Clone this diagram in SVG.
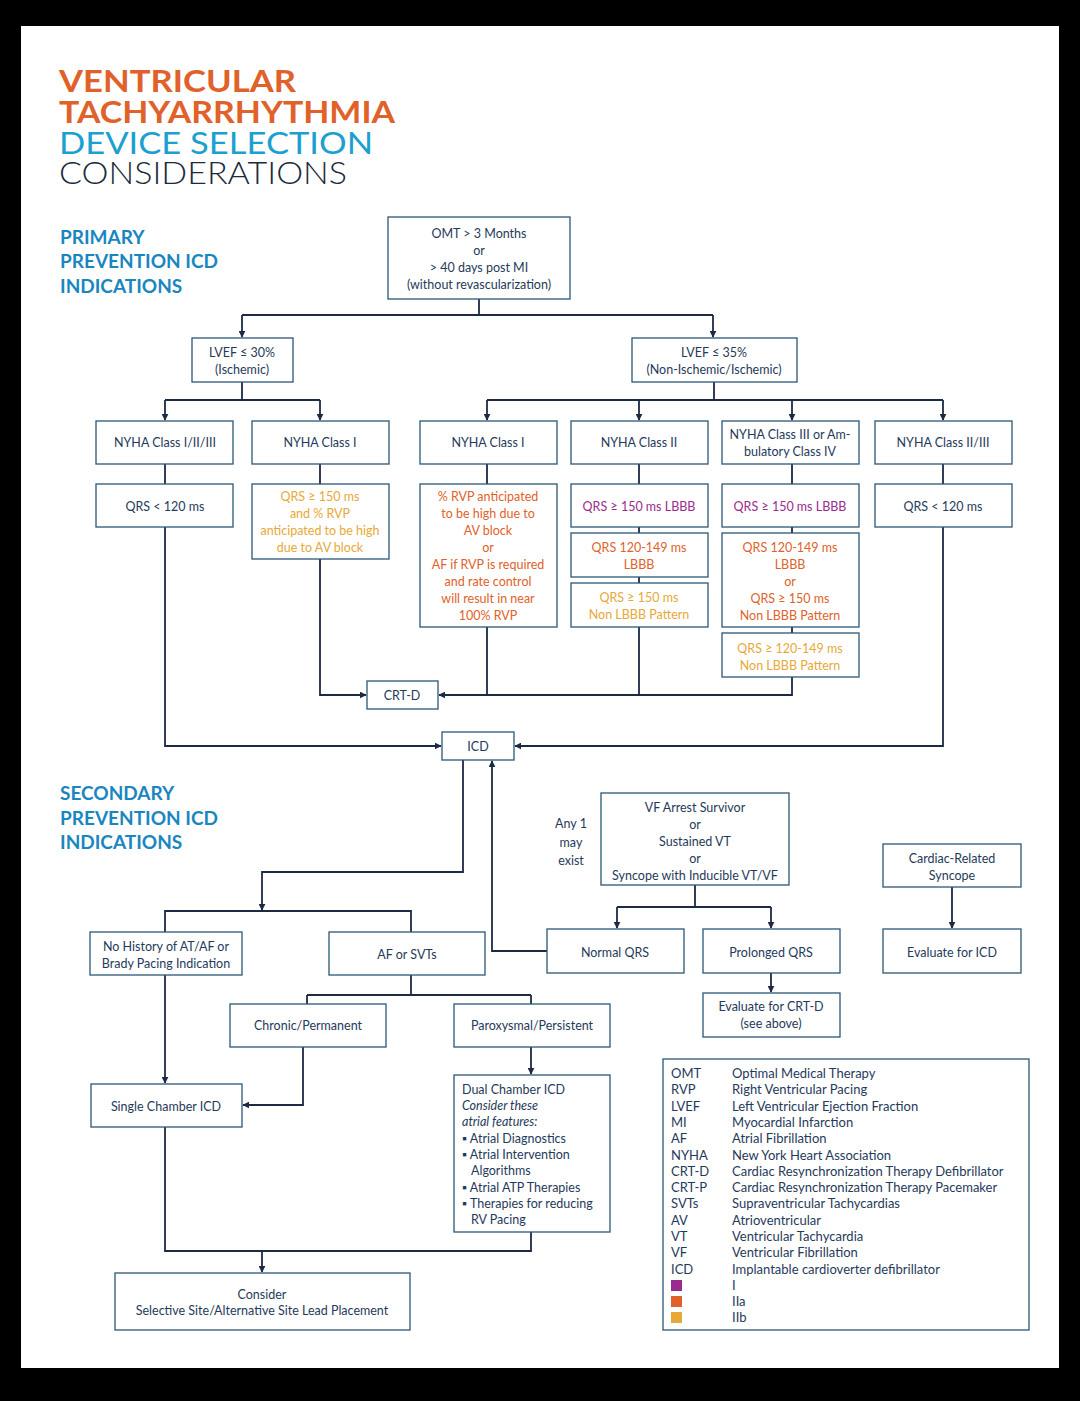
<svg xmlns="http://www.w3.org/2000/svg" width="1080" height="1401" viewBox="0 0 1080 1401">
<defs>
<marker id="ah" viewBox="0 0 10 10" refX="9" refY="5" markerWidth="7" markerHeight="7" orient="auto" markerUnits="userSpaceOnUse"><path d="M0,0 L10,5 L0,10 z" fill="#1c2a44"/></marker>
<style>
.b{fill:#fff;stroke:#2a5676;stroke-width:1.3}
.t{font-family:Lato,"Open Sans",sans-serif;font-size:12.5px;fill:#1f3a5a;text-anchor:middle}
.l{font-family:Lato,"Open Sans",sans-serif;font-size:12.5px;fill:#1f3a5a}
.lg{font-family:Lato,"Open Sans",sans-serif;font-size:13px;fill:#1f3a5a}
.p{fill:#9b2a8e}.o{fill:#e0622a}.y{fill:#e8a838}
.h{font-family:Lato,"Open Sans",sans-serif;font-size:19px;font-weight:bold;fill:#1a86c0}
#conn path{fill:none;stroke:#1c2a44;stroke-width:1.8}
</style>
</defs>
<rect width="1080" height="1401" fill="#000"/>
<rect x="21" y="26" width="1038" height="1342" fill="#fff"/>
<g font-family="Lato,'Open Sans',sans-serif" font-size="30.5" lengthAdjust="spacingAndGlyphs">
<text x="59" y="92" font-weight="bold" fill="#e0622a" textLength="237" lengthAdjust="spacingAndGlyphs">VENTRICULAR</text>
<text x="59" y="123" font-weight="bold" fill="#e0622a" textLength="336" lengthAdjust="spacingAndGlyphs">TACHYARRHYTHMIA</text>
<text x="59" y="154" fill="#1ba0cf" textLength="314" lengthAdjust="spacingAndGlyphs">DEVICE SELECTION</text>
<text x="59" y="184" fill="#1a2a3a" font-weight="300" textLength="288" lengthAdjust="spacingAndGlyphs">CONSIDERATIONS</text>
</g>
<text class="h" x="60" y="244">PRIMARY</text>
<text class="h" x="60" y="268">PREVENTION ICD</text>
<text class="h" x="60" y="293">INDICATIONS</text>
<text class="h" x="60" y="800">SECONDARY</text>
<text class="h" x="60" y="825">PREVENTION ICD</text>
<text class="h" x="60" y="849">INDICATIONS</text>

<g id="conn">
<path d="M479,299 V315 M242,315 H713"/>
<path d="M242,315 V337" marker-end="url(#ah)"/><path d="M713,315 V337" marker-end="url(#ah)"/>
<path d="M242,382 V400 M165,400 H320 M714,382 V400 M487,400 H943"/>
<path d="M165,400 V420" marker-end="url(#ah)"/><path d="M320,400 V420" marker-end="url(#ah)"/>
<path d="M487,400 V420" marker-end="url(#ah)"/><path d="M639,400 V420" marker-end="url(#ah)"/>
<path d="M792,400 V420" marker-end="url(#ah)"/><path d="M943,400 V420" marker-end="url(#ah)"/>
<path d="M165,464 V484 M320,464 V484 M487,464 V484 M639,464 V484 M792,464 V484 M943,464 V484 M639,527 V533 M639,577 V583 M792,527 V533 M792,627 V633"/>
<path d="M165,527 V746 H441" marker-end="url(#ah)"/>
<path d="M943,527 V746 H515" marker-end="url(#ah)"/>
<path d="M320,559 V695 H366" marker-end="url(#ah)"/>
<path d="M792,677 V695 H439" marker-end="url(#ah)"/>
<path d="M487,627 V695 M639,627 V695"/>
<path d="M463,760 V872 H262 V910" marker-end="url(#ah)"/>
<path d="M165,932 V911 H411 V932"/>
<path d="M411,975 V995 M307,995 H531 M307,995 V1004 M531,995 V1004"/>
<path d="M531,1047 V1074" marker-end="url(#ah)"/>
<path d="M303,1047 V1105 H243" marker-end="url(#ah)"/>
<path d="M165,975 V1083" marker-end="url(#ah)"/>
<path d="M165,1127 V1251 H531 V1232"/>
<path d="M262,1251 V1272" marker-end="url(#ah)"/>
<path d="M695,885 V907 H617 M695,907 H771"/>
<path d="M617,907 V928" marker-end="url(#ah)"/><path d="M771,907 V928" marker-end="url(#ah)"/>
<path d="M547,951 H492 V761" marker-end="url(#ah)"/>
<path d="M771,973 V992" marker-end="url(#ah)"/>
<path d="M952,887 V928" marker-end="url(#ah)"/>
</g>

<g id="omt"><rect class="b" x="388" y="217" width="182" height="82"/><text class="t" x="479" y="238">OMT &gt; 3 Months</text><text class="t" x="479" y="255">or</text><text class="t" x="479" y="272">&gt; 40 days post MI</text><text class="t" x="479" y="289">(without revascularization)</text></g>
<g id="lvef30"><rect class="b" x="192" y="338" width="101" height="44"/><text class="t" x="242" y="357">LVEF ≤ 30%</text><text class="t" x="242" y="374">(Ischemic)</text></g>
<g id="lvef35"><rect class="b" x="632" y="338" width="165" height="44"/><text class="t" x="714" y="357">LVEF ≤ 35%</text><text class="t" x="714" y="374">(Non-Ischemic/Ischemic)</text></g>

<g id="n1"><rect class="b" x="96" y="421" width="137" height="43"/><text class="t" x="165" y="447">NYHA Class I/II/III</text></g>
<g id="n2"><rect class="b" x="252" y="421" width="137" height="43"/><text class="t" x="320" y="447">NYHA Class I</text></g>
<g id="n3"><rect class="b" x="420" y="421" width="137" height="43"/><text class="t" x="488" y="447">NYHA Class I</text></g>
<g id="n4"><rect class="b" x="571" y="421" width="137" height="43"/><text class="t" x="639" y="447">NYHA Class II</text></g>
<g id="n5"><rect class="b" x="722" y="421" width="137" height="43"/><text class="t" x="790" y="439">NYHA Class III or Am-</text><text class="t" x="790" y="456">bulatory Class IV</text></g>
<g id="n6"><rect class="b" x="875" y="421" width="137" height="43"/><text class="t" x="943" y="447">NYHA Class II/III</text></g>

<g id="q1"><rect class="b" x="96" y="484" width="137" height="43"/><text class="t" x="165" y="511">QRS &lt; 120 ms</text></g>
<g id="q2"><rect class="b" x="252" y="484" width="137" height="75"/><text class="t y" x="320" y="501">QRS ≥ 150 ms</text><text class="t y" x="320" y="518">and % RVP</text><text class="t y" x="320" y="535">anticipated to be high</text><text class="t y" x="320" y="552">due to AV block</text></g>
<g id="q3"><rect class="b" x="420" y="484" width="137" height="143"/><text class="t o" x="488" y="501">% RVP anticipated</text><text class="t o" x="488" y="518">to be high due to</text><text class="t o" x="488" y="535">AV block</text><text class="t o" x="488" y="552">or</text><text class="t o" x="488" y="569">AF if RVP is required</text><text class="t o" x="488" y="586">and rate control</text><text class="t o" x="488" y="603">will result in near</text><text class="t o" x="488" y="620">100% RVP</text></g>
<g id="q4a"><rect class="b" x="571" y="484" width="137" height="43"/><text class="t p" x="639" y="511">QRS ≥ 150 ms LBBB</text></g>
<g id="q4b"><rect class="b" x="571" y="533" width="137" height="44"/><text class="t o" x="639" y="552">QRS 120-149 ms</text><text class="t o" x="639" y="569">LBBB</text></g>
<g id="q4c"><rect class="b" x="571" y="583" width="137" height="44"/><text class="t y" x="639" y="602">QRS ≥ 150 ms</text><text class="t y" x="639" y="619">Non LBBB Pattern</text></g>
<g id="q5a"><rect class="b" x="722" y="484" width="137" height="43"/><text class="t p" x="790" y="511">QRS ≥ 150 ms LBBB</text></g>
<g id="q5b"><rect class="b" x="722" y="533" width="137" height="94"/><text class="t o" x="790" y="552">QRS 120-149 ms</text><text class="t o" x="790" y="569">LBBB</text><text class="t o" x="790" y="586">or</text><text class="t o" x="790" y="603">QRS ≥ 150 ms</text><text class="t o" x="790" y="620">Non LBBB Pattern</text></g>
<g id="q5c"><rect class="b" x="722" y="633" width="137" height="44"/><text class="t y" x="790" y="653">QRS ≥ 120-149 ms</text><text class="t y" x="790" y="670">Non LBBB Pattern</text></g>
<g id="q6"><rect class="b" x="875" y="484" width="137" height="43"/><text class="t" x="943" y="511">QRS &lt; 120 ms</text></g>

<g id="crtd"><rect class="b" x="367" y="681" width="71" height="28"/><text class="t" x="402" y="700">CRT-D</text></g>
<g id="icd"><rect class="b" x="442" y="732" width="72" height="28"/><text class="t" x="478" y="751">ICD</text></g>

<g id="nohist"><rect class="b" x="90" y="932" width="152" height="43"/><text class="t" x="166" y="951">No History of AT/AF or</text><text class="t" x="166" y="968">Brady Pacing Indication</text></g>
<g id="afsvt"><rect class="b" x="329" y="932" width="156" height="43"/><text class="t" x="407" y="959">AF or SVTs</text></g>
<g id="chronic"><rect class="b" x="230" y="1004" width="156" height="43"/><text class="t" x="308" y="1030">Chronic/Permanent</text></g>
<g id="parox"><rect class="b" x="454" y="1004" width="156" height="43"/><text class="t" x="532" y="1030">Paroxysmal/Persistent</text></g>
<g id="single"><rect class="b" x="91" y="1084" width="151" height="43"/><text class="t" x="166" y="1111">Single Chamber ICD</text></g>
<g id="dual"><rect class="b" x="454" y="1075" width="156" height="157"/>
<text class="l" x="462" y="1094">Dual Chamber ICD</text>
<text class="l" x="462" y="1110" font-style="italic">Consider these</text>
<text class="l" x="462" y="1126" font-style="italic">atrial features:</text>
<text class="l" x="462" y="1143">▪ Atrial Diagnostics</text>
<text class="l" x="462" y="1159">▪ Atrial Intervention</text>
<text class="l" x="471" y="1175">Algorithms</text>
<text class="l" x="462" y="1192">▪ Atrial ATP Therapies</text>
<text class="l" x="462" y="1208">▪ Therapies for reducing</text>
<text class="l" x="471" y="1224">RV Pacing</text></g>
<g id="consider"><rect class="b" x="115" y="1273" width="295" height="57"/><text class="t" x="262" y="1299">Consider</text><text class="t" x="262" y="1315">Selective Site/Alternative Site Lead Placement</text></g>

<g id="vf"><rect class="b" x="601" y="793" width="188" height="92"/><text class="t" x="695" y="812">VF Arrest Survivor</text><text class="t" x="695" y="829">or</text><text class="t" x="695" y="846">Sustained VT</text><text class="t" x="695" y="863">or</text><text class="t" x="695" y="880">Syncope with Inducible VT/VF</text></g>
<g id="any"><text class="t" x="571" y="828" font-size="13.5">Any 1</text><text class="t" x="571" y="847" font-size="13.5">may</text><text class="t" x="571" y="865" font-size="13.5">exist</text></g>
<g id="normal"><rect class="b" x="547" y="929" width="137" height="44"/><text class="t" x="615" y="957">Normal QRS</text></g>
<g id="prolonged"><rect class="b" x="703" y="929" width="137" height="44"/><text class="t" x="771" y="957">Prolonged QRS</text></g>
<g id="evalcrt"><rect class="b" x="703" y="993" width="137" height="44"/><text class="t" x="771" y="1011">Evaluate for CRT-D</text><text class="t" x="771" y="1028">(see above)</text></g>
<g id="syncope"><rect class="b" x="883" y="844" width="138" height="43"/><text class="t" x="952" y="863">Cardiac-Related</text><text class="t" x="952" y="880">Syncope</text></g>
<g id="evalicd"><rect class="b" x="883" y="929" width="138" height="44"/><text class="t" x="952" y="957">Evaluate for ICD</text></g>

<g id="legend"><rect class="b" x="663" y="1059" width="366" height="271"/>
<g class="lg">
<text x="671" y="1078">OMT</text><text x="732" y="1078">Optimal Medical Therapy</text>
<text x="671" y="1094">RVP</text><text x="732" y="1094">Right Ventricular Pacing</text>
<text x="671" y="1111">LVEF</text><text x="732" y="1111">Left Ventricular Ejection Fraction</text>
<text x="671" y="1127">MI</text><text x="732" y="1127">Myocardial Infarction</text>
<text x="671" y="1143">AF</text><text x="732" y="1143">Atrial Fibrillation</text>
<text x="671" y="1160">NYHA</text><text x="732" y="1160">New York Heart Association</text>
<text x="671" y="1176">CRT-D</text><text x="732" y="1176">Cardiac Resynchronization Therapy Defibrillator</text>
<text x="671" y="1192">CRT-P</text><text x="732" y="1192">Cardiac Resynchronization Therapy Pacemaker</text>
<text x="671" y="1208">SVTs</text><text x="732" y="1208">Supraventricular Tachycardias</text>
<text x="671" y="1225">AV</text><text x="732" y="1225">Atrioventricular</text>
<text x="671" y="1241">VT</text><text x="732" y="1241">Ventricular Tachycardia</text>
<text x="671" y="1257">VF</text><text x="732" y="1257">Ventricular Fibrillation</text>
<text x="671" y="1274">ICD</text><text x="732" y="1274">Implantable cardioverter defibrillator</text>
<text x="732" y="1290">I</text><text x="732" y="1306">IIa</text><text x="732" y="1322">IIb</text>
</g>
<rect x="671" y="1280" width="11" height="11" fill="#9b2a8e"/>
<rect x="671" y="1296" width="11" height="11" fill="#e0622a"/>
<rect x="671" y="1312" width="11" height="11" fill="#e8a838"/>
</g>
</svg>
